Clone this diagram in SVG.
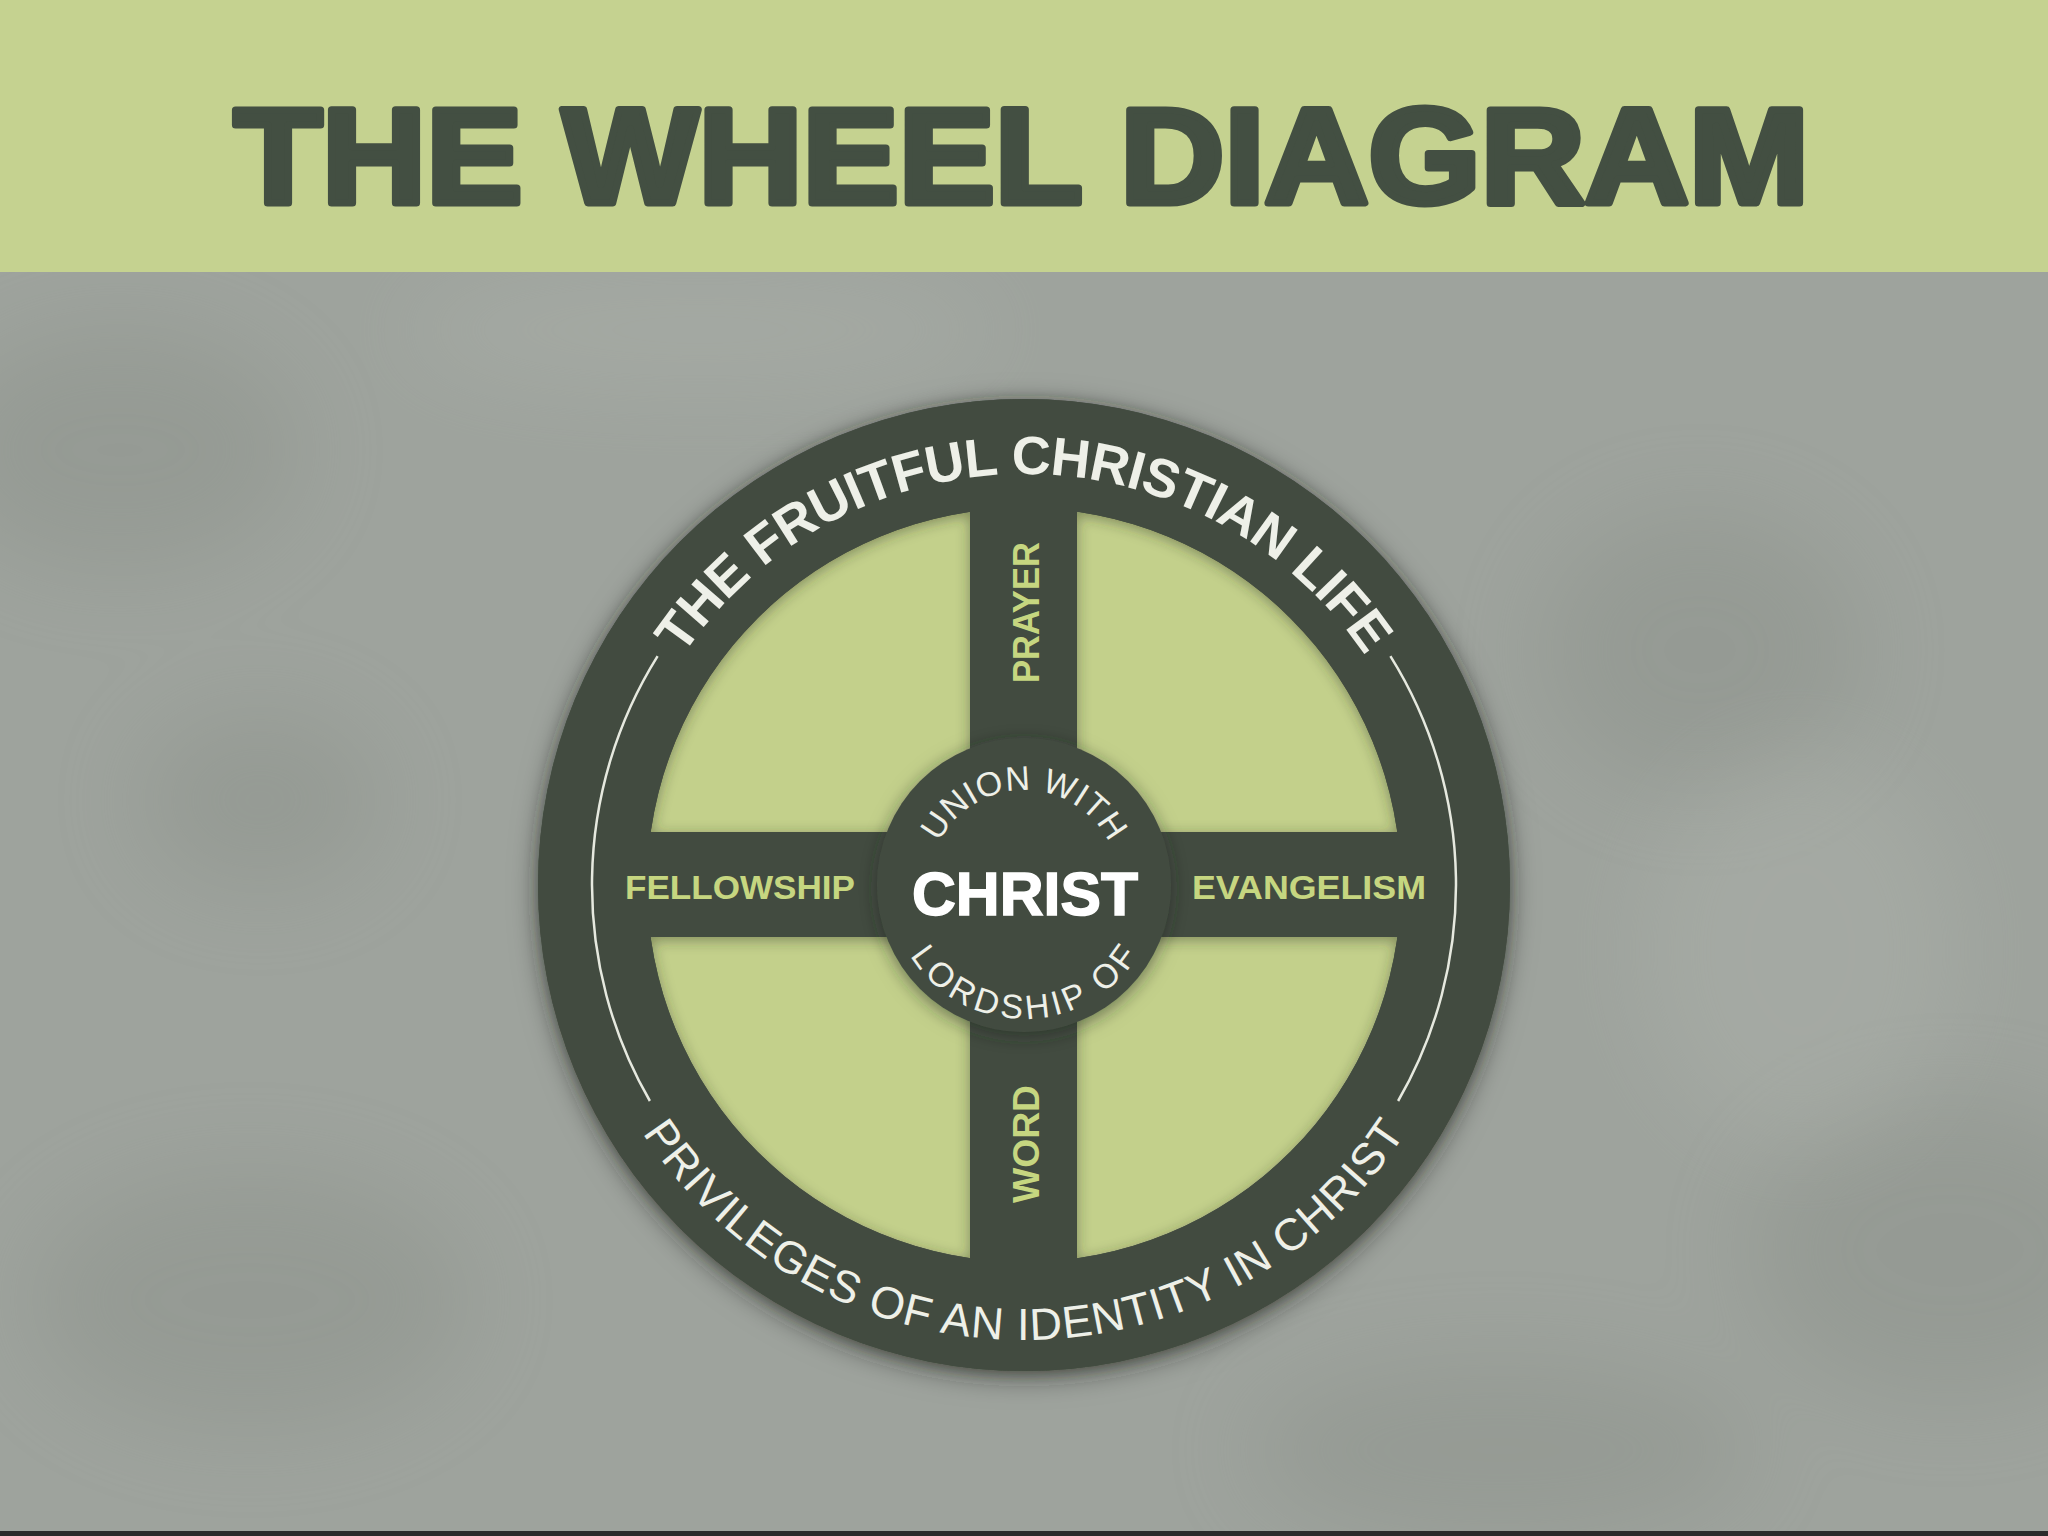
<svg xmlns="http://www.w3.org/2000/svg" width="2048" height="1536" viewBox="0 0 2048 1536">
<defs>
<style>
.dark{fill:#434c41}
.green{fill:#c3d08b}
.lbl{font-family:"Liberation Sans",Arial,sans-serif;font-weight:700;fill:#c6d680}
.ringB{font-family:"Liberation Sans",Arial,sans-serif;font-weight:700;fill:#eef0e8}
.ringR{font-family:"Liberation Sans",Arial,sans-serif;font-weight:400;fill:#eef0e8}
.arc{fill:none;stroke:#e6e9df;stroke-width:2.5}
</style>
<filter id="wheelShadow" x="-20%" y="-20%" width="140%" height="140%">
<feDropShadow dx="0" dy="6" stdDeviation="14" flood-color="#1e231d" flood-opacity="0.5"/>
</filter>
<filter id="innerShadow" x="-10%" y="-10%" width="120%" height="120%">
<feDropShadow dx="0" dy="3" stdDeviation="7" flood-color="#2a3127" flood-opacity="0.45"/>
</filter>
<filter id="hubShadow" x="-30%" y="-30%" width="160%" height="160%">
<feDropShadow dx="0" dy="4" stdDeviation="9" flood-color="#1f251d" flood-opacity="0.55"/>
</filter>
<filter id="blotch" x="-50%" y="-50%" width="200%" height="200%"><feGaussianBlur stdDeviation="45"/></filter>
<path id="topArc" d="M 613 885 A 411 411 0 0 1 1435 885"/>
<path id="botArc" d="M 569 885 A 455 455 0 0 0 1479 885"/>
<path id="cTop" d="M 929 885 A 95 95 0 0 1 1119 885"/>
<path id="cBot" d="M 890 885 A 134 134 0 0 0 1158 885"/>
</defs>

<g id="background">
<rect x="0" y="0" width="2048" height="1536" fill="#9ea39d"/>
<g filter="url(#blotch)" fill="#80867f" opacity="0.28">
<ellipse cx="120" cy="450" rx="180" ry="120"/>
<ellipse cx="260" cy="800" rx="120" ry="90"/>
<ellipse cx="1700" cy="650" rx="160" ry="140"/>
<ellipse cx="1950" cy="1250" rx="200" ry="150"/>
<ellipse cx="250" cy="1300" rx="220" ry="130"/>
<ellipse cx="1500" cy="1450" rx="250" ry="90"/>
</g>
<g filter="url(#blotch)" fill="#b3b8b1" opacity="0.3">
<ellipse cx="700" cy="330" rx="300" ry="60"/>
<ellipse cx="1800" cy="950" rx="160" ry="200"/>
</g>
<rect x="0" y="1531" width="2048" height="5" fill="#2b2b2b"/>
</g>

<g id="header">
<rect x="0" y="0" width="2048" height="272" fill="#c5d290"/>
<text id="title" x="234" y="203" textLength="1575" lengthAdjust="spacingAndGlyphs" font-family="'Liberation Sans',Arial,sans-serif" font-weight="900" font-size="136" fill="#434f42" stroke="#434f42" stroke-width="7" stroke-linejoin="round">THE WHEEL DIAGRAM</text>
</g>

<g id="wheel">
<circle id="wheel-base" class="dark" cx="1024" cy="885" r="486" filter="url(#wheelShadow)"/>
<circle id="quadrants" class="green" cx="1024" cy="885" r="377"/>
<g id="spokes" class="dark" filter="url(#innerShadow)">
<path fill-rule="evenodd" d="M 538 885 a 486 486 0 1 0 972 0 a 486 486 0 1 0 -972 0 Z M 647 885 a 377 377 0 1 0 754 0 a 377 377 0 1 0 -754 0 Z"/>
<rect x="970" y="500" width="107" height="770"/>
<rect x="640" y="832" width="770" height="105"/>
</g>
<g id="rim-lines">
<path class="arc" d="M 657.6 656.1 A 432 432 0 0 0 649.9 1101"/>
<path class="arc" d="M 1390.4 656.1 A 432 432 0 0 1 1398.1 1101"/>
</g>
<g id="rim-top-label">
<text class="ringB" font-size="54"><textPath href="#topArc" startOffset="50%" text-anchor="middle" textLength="805" lengthAdjust="spacing">THE FRUITFUL CHRISTIAN LIFE</textPath></text>
</g>
<g id="rim-bottom-label">
<text class="ringR" font-size="45"><textPath href="#botArc" startOffset="50%" text-anchor="middle" textLength="905" lengthAdjust="spacing">PRIVILEGES OF AN IDENTITY IN CHRIST</textPath></text>
</g>
<g id="node-prayer">
<text class="lbl" font-size="36" text-anchor="middle" textLength="141" lengthAdjust="spacingAndGlyphs" transform="translate(1039,612.5) rotate(-90)">PRAYER</text>
</g>
<g id="node-word">
<text class="lbl" font-size="36" text-anchor="middle" textLength="118" lengthAdjust="spacingAndGlyphs" transform="translate(1039,1144) rotate(-90)">WORD</text>
</g>
<g id="node-fellowship">
<text class="lbl" font-size="33" x="740" y="899" text-anchor="middle" textLength="230" lengthAdjust="spacingAndGlyphs">FELLOWSHIP</text>
</g>
<g id="node-evangelism">
<text class="lbl" font-size="33" x="1309" y="899" text-anchor="middle" textLength="234" lengthAdjust="spacingAndGlyphs">EVANGELISM</text>
</g>
<g id="hub">
<circle class="dark" cx="1024" cy="885" r="147" filter="url(#hubShadow)"/>
<text x="1025" y="915" text-anchor="middle" font-family="'Liberation Sans',Arial,sans-serif" font-weight="700" font-size="61" fill="#ffffff" stroke="#ffffff" stroke-width="1.5" textLength="226" lengthAdjust="spacingAndGlyphs">CHRIST</text>
<text class="ringR" font-size="34"><textPath href="#cTop" startOffset="50%" text-anchor="middle" textLength="210" lengthAdjust="spacing">UNION WITH</textPath></text>
<text class="ringR" font-size="34"><textPath href="#cBot" startOffset="50%" text-anchor="middle" textLength="272" lengthAdjust="spacing">LORDSHIP OF</textPath></text>
</g>
</g>
</svg>
